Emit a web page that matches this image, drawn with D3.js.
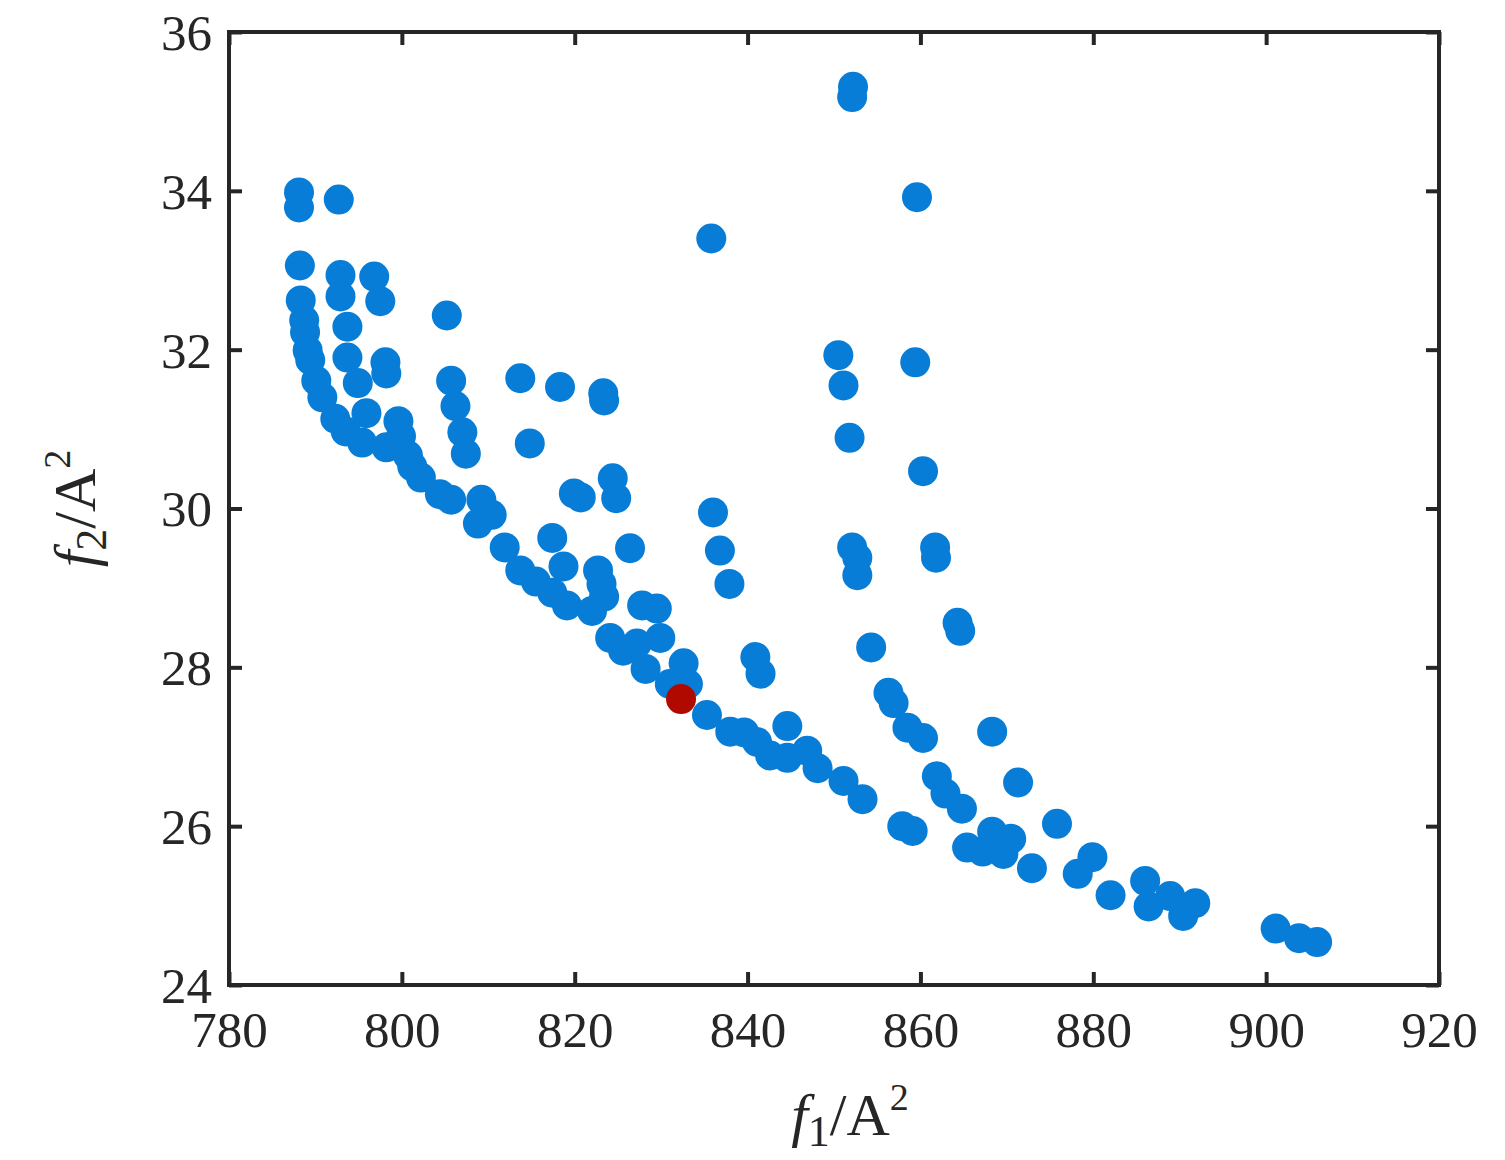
<!DOCTYPE html>
<html>
<head>
<meta charset="utf-8">
<script src="https://cdn.jsdelivr.net/npm/d3@7"></script>
<style>
  body { margin: 0; background: #fff; }
  text { font-family: "Liberation Serif", "Times New Roman", serif; fill: #262626; }
</style>
</head>
<body>
<svg id="chart"></svg>
<script>
// Pareto set, objective 1 (f1 / A^2)
var f1 = [788.1, 788.1, 792.7, 788.2, 788.3, 788.7, 788.8, 789.1, 789.4, 790.1,
          790.8, 792.3, 792.9, 792.9, 796.8, 797.5, 793.7, 793.7, 798.1, 798.2,
          794.9, 805.2, 805.7, 813.7, 818.3, 823.3, 823.4, 795.9, 799.6, 799.9,
          793.5, 795.4, 798.2, 800.7, 801.2, 802.2, 804.4, 805.7, 806.2, 807.0,
          807.4, 809.2, 810.4, 808.8, 811.9, 813.7, 815.5, 817.4, 818.7, 817.4,
          819.1, 819.9, 820.7, 824.4, 824.8, 814.8, 822.7, 823.1, 823.4, 822.0,
          824.1, 825.6, 827.2, 826.4, 827.8, 829.5, 829.9, 828.2, 832.6, 831.0,
          833.1, 835.3, 838.0, 839.6, 841.1, 842.6, 844.6, 844.6, 846.9, 848.1,
          840.9, 841.5, 836.0, 836.8, 837.9, 835.8, 852.2, 852.1, 859.6, 850.5,
          851.1, 859.4, 851.8, 860.3, 852.1, 852.7, 852.7, 861.7, 861.8, 864.3,
          864.6, 854.3, 856.3, 856.9, 858.5, 860.3, 868.3, 851.1, 853.3, 861.9,
          862.9, 864.8, 871.3, 857.9, 859.1, 875.8, 865.4, 867.2, 868.3, 870.5,
          869.6, 872.9, 878.2, 879.9, 882.0, 886.0, 886.4, 888.9, 890.4, 891.8,
          901.1, 903.8, 905.9];
// Pareto set, objective 2 (f2 / A^2)
var f2 = [33.98, 33.79, 33.89, 33.06, 32.62, 32.37, 32.22, 31.99, 31.87, 31.61,
          31.40, 31.13, 32.94, 32.67, 32.92, 32.61, 32.29, 31.90, 31.84, 31.70,
          31.58, 32.43, 31.61, 31.64, 31.53, 31.45, 31.36, 31.20, 31.10, 30.91,
          30.97, 30.83, 30.77, 30.67, 30.53, 30.39, 30.18, 30.11, 31.29, 30.96,
          30.69, 30.11, 29.92, 29.81, 29.51, 29.22, 29.08, 29.63, 29.27, 28.94,
          28.78, 30.19, 30.14, 30.38, 30.13, 30.82, 29.22, 29.05, 28.89, 28.71,
          28.37, 28.21, 28.30, 29.50, 28.78, 28.74, 28.37, 27.98, 28.05, 27.79,
          27.79, 27.40, 27.19, 27.18, 27.06, 26.89, 27.26, 26.86, 26.95, 26.73,
          28.13, 27.92, 29.95, 29.47, 29.05, 33.40, 35.31, 35.18, 33.92, 31.93,
          31.55, 31.84, 30.89, 30.47, 29.51, 29.38, 29.16, 29.51, 29.38, 28.56,
          28.46, 28.25, 27.68, 27.55, 27.24, 27.11, 27.19, 26.57, 26.34, 26.63,
          26.41, 26.22, 26.55, 26.00, 25.94, 26.03, 25.73, 25.68, 25.93, 25.84,
          25.65, 25.47, 25.40, 25.61, 25.13, 25.31, 24.99, 25.12, 24.87, 25.03,
          24.71, 24.59, 24.54];
// chosen compromise solution
var bestF1 = [832.3];
var bestF2 = [27.60];

var xTicks = [780, 800, 820, 840, 860, 880, 900, 920];
var yTicks = [24, 26, 28, 30, 32, 34, 36];

var W = 1505, H = 1160;
var margin = {left: 229, top: 32, right: 66, bottom: 175};
var w = W - margin.left - margin.right;
var h = H - margin.top - margin.bottom;
var axisColor = '#262626';

var svg = d3.select('#chart')
    .attr('width', W)
    .attr('height', H);

var x = d3.scaleLinear().domain([780, 920]).range([0, w]);
var y = d3.scaleLinear().domain([24, 36]).range([h, 0]);

var g = svg.append('g')
    .attr('transform', 'translate(' + margin.left + ',' + margin.top + ')');

// points first, box on top
var pts = f1.map(function(d, i) { return [d, f2[i]]; });
g.selectAll('circle.pt')
    .data(pts)
    .enter()
    .append('circle')
    .attr('class', 'pt')
    .attr('cx', function(d) { return x(d[0]); })
    .attr('cy', function(d) { return y(d[1]); })
    .attr('r', 15)
    .attr('fill', '#077dd7');

g.selectAll('circle.best')
    .data(bestF1.map(function(d, i) { return [d, bestF2[i]]; }))
    .enter()
    .append('circle')
    .attr('class', 'best')
    .attr('cx', function(d) { return x(d[0]); })
    .attr('cy', function(d) { return y(d[1]); })
    .attr('r', 15)
    .attr('fill', '#b00a00');

function styleAxis(sel) {
  sel.select('.domain').remove();
  sel.selectAll('.tick line')
      .attr('stroke', axisColor)
      .attr('stroke-width', 4);
  sel.selectAll('.tick text')
      .style('font-size', '51px')
      .style('font-family', '"Liberation Serif", "Times New Roman", serif')
      .attr('fill', axisColor);
}

// bottom / left with labels, ticks pointing in
g.append('g')
    .attr('transform', 'translate(0,' + h + ')')
    .call(d3.axisBottom(x).tickValues(xTicks).tickSize(-13).tickPadding(26).tickFormat(d3.format('d')))
    .call(styleAxis);

g.append('g')
    .call(d3.axisLeft(y).tickValues(yTicks).tickSize(-13).tickPadding(17).tickFormat(d3.format('d')))
    .call(styleAxis)
    .selectAll('.tick text').attr('dy', '0.34em');

// top / right ticks only
g.append('g')
    .call(d3.axisTop(x).tickValues(xTicks).tickSize(-13).tickFormat(''))
    .call(styleAxis);

g.append('g')
    .attr('transform', 'translate(' + w + ',0)')
    .call(d3.axisRight(y).tickValues(yTicks).tickSize(-13).tickFormat(''))
    .call(styleAxis);

// box
g.append('rect')
    .attr('x', 0).attr('y', 0)
    .attr('width', w).attr('height', h)
    .attr('fill', 'none')
    .attr('stroke', axisColor)
    .attr('stroke-width', 4);

// axis titles
var xl = svg.append('text')
    .attr('x', 850)
    .attr('y', 1135)
    .attr('text-anchor', 'middle')
    .style('font-size', '60px');
xl.append('tspan').style('font-style', 'italic').text('f');
xl.append('tspan').attr('dy', 11).style('font-size', '44px').text('1');
xl.append('tspan').attr('dy', -11).text('/A');
xl.append('tspan').attr('dy', -25).style('font-size', '38px').text('2');

var yl = svg.append('text')
    .attr('transform', 'translate(95,' + (margin.top + h / 2) + ') rotate(-90)')
    .attr('text-anchor', 'middle')
    .style('font-size', '60px');
yl.append('tspan').style('font-style', 'italic').text('f');
yl.append('tspan').attr('dy', 11).style('font-size', '44px').text('2');
yl.append('tspan').attr('dy', -11).text('/A');
yl.append('tspan').attr('dy', -25).style('font-size', '38px').text('2');
</script>
</body>
</html>
